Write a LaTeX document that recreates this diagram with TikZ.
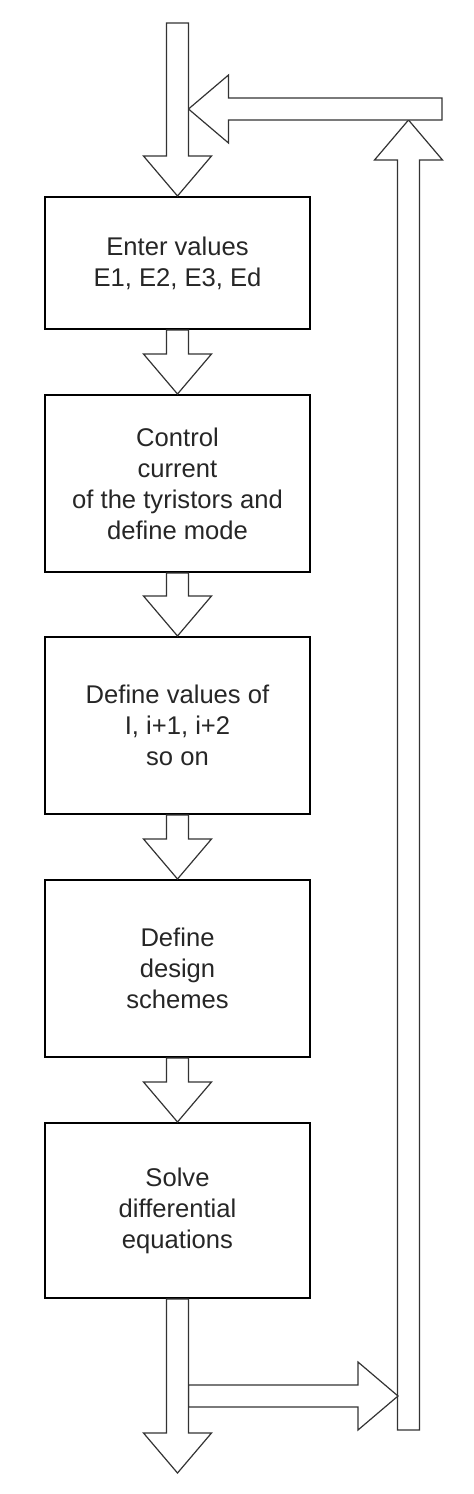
\documentclass[tikz,border=0pt]{standalone}
\usepackage{fontspec}
\setmainfont{Liberation Sans}
\usepackage{tikz}
\usetikzlibrary{calc,positioning}

% sizes of the block arrows
\def\shaftw{5.5pt}
\def\headw{17pt}
\def\headlen{20pt}

\newcommand{\blockarrow}[2]{%
	\coordinate (ba-s) at (#1);
	\coordinate (ba-t) at (#2);
	\coordinate (ba-h) at ($(ba-t)!\headlen!(ba-s)$);
	\draw[fatarrow] ($(ba-s)!\shaftw!90:(ba-t)$) -- ($(ba-h)!\shaftw!-90:(ba-s)$)
		-- ($(ba-h)!\headw!-90:(ba-s)$) -- (ba-t) -- ($(ba-h)!\headw!90:(ba-s)$)
		-- ($(ba-h)!\shaftw!90:(ba-s)$) -- ($(ba-s)!\shaftw!-90:(ba-t)$) -- cycle;
}

\begin{document}
\begin{tikzpicture}[
				x=0.5pt, y=-0.5pt,
				procbox/.style={draw, line width=1pt, minimum width=132.5pt,
					minimum height=88.5pt, inner sep=0pt, align=center, text=black!85,
					font=\fontsize{12.8}{15.5}\selectfont},
				fatarrow/.style={draw=black!80, line width=0.6pt, fill=white},
			]
			\useasboundingbox (0,0) rectangle (474,1494);

			\node[procbox, minimum height=66pt] (enter) at (177.5,263) {Enter values\\E1, E2, E3, Ed};
			\node[procbox] (control) at (177.5,483.5) {Control\\current\\of the tyristors and\\define mode};
			\node[procbox] (values) at (177.5,725.5) {Define values of\\I, i+1, i+2\\so on};
			\node[procbox] (schemes) at (177.5,968.5) {Define\\design\\schemes};
			\node[procbox, minimum height=87.5pt] (solve) at (177.5,1210.5) {Solve\\differential\\equations};

			% loop points
			\coordinate (start) at (177.5,23);
			\coordinate (finish) at (177.5,1473);
			\coordinate (branch) at (188.5,1396);
			\coordinate (bend) at (398,1396);
			\coordinate (corner) at (408.5,1430);
			\coordinate (loopup) at (408.5,120);
			\coordinate (loopback) at (442,109);
			\coordinate (merge) at (188.5,109);

			\blockarrow{corner}{loopup}
			\blockarrow{branch}{bend}
			\blockarrow{loopback}{merge}

			\blockarrow{start}{enter.north}
			\blockarrow{enter.south}{control.north}
			\blockarrow{control.south}{values.north}
			\blockarrow{values.south}{schemes.north}
			\blockarrow{schemes.south}{solve.north}
			\blockarrow{solve.south}{finish}

		\end{tikzpicture}
\end{document}
